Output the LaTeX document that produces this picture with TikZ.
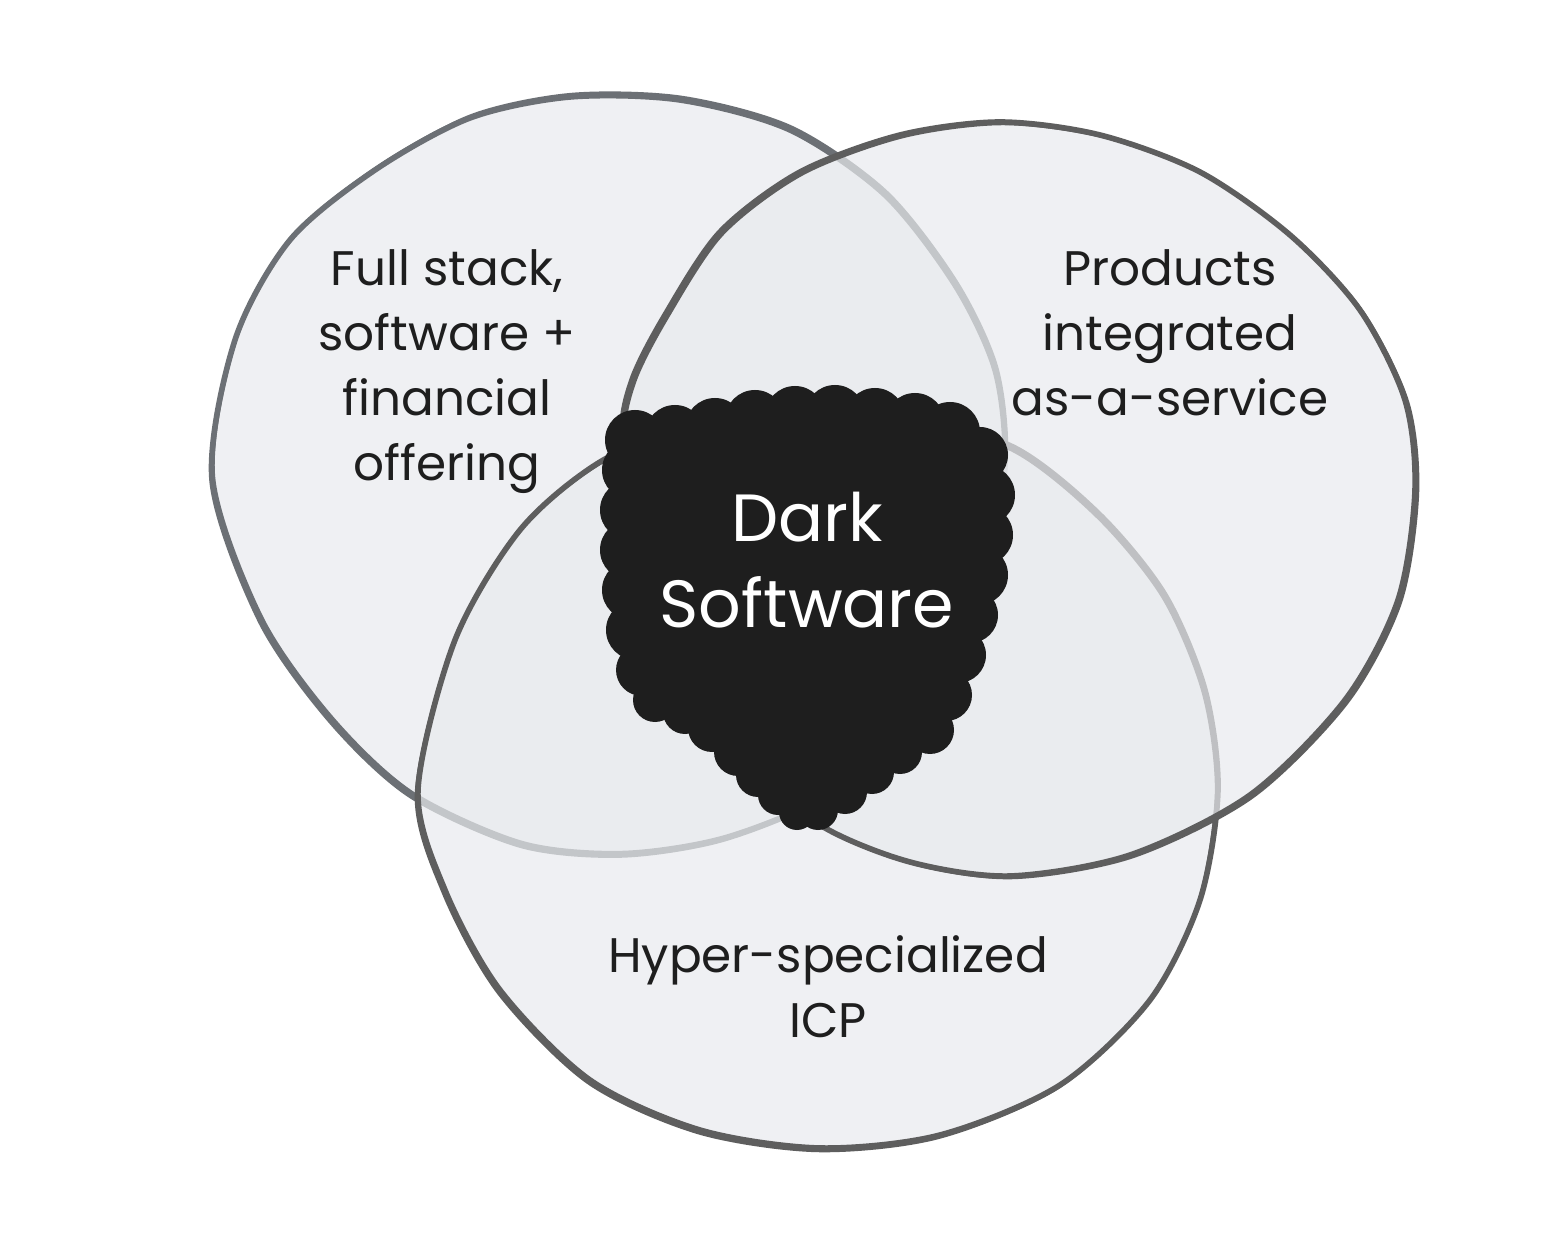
\documentclass[tikz,border=0pt]{standalone}
\usepackage{fontspec}
\setmainfont{Poppins}
\definecolor{ringline}{HTML}{5E5E5E}
\definecolor{leftline}{HTML}{6C7075}
\definecolor{ringfill}{RGB}{233,235,238}
\definecolor{blobc}{HTML}{1E1E1E}
\definecolor{inkc}{HTML}{1E1E1E}

\begin{document}
\begin{tikzpicture}[x=0.1mm,y=-0.1mm,
    ring/.style={draw=ringline,line width=1.6pt,fill=ringfill,fill opacity=0.7},
    ring again/.style={draw=ringline,line width=0.7pt},
    label text/.style={font=\fontsize{13.8}{18.5}\selectfont,text=inkc,align=center,inner sep=0pt},
    dark text/.style={font=\fontsize{19}{24.5}\selectfont,text=white,align=center,inner sep=0pt}]

  \useasboundingbox (0,0) rectangle (1554,1258);
  \fill[white] (0,0) rectangle (1554,1258);

  \def\leftring{plot[smooth cycle] coordinates {(212,480) (235,340) (290,240) (375,170) (470,118)
    (570,97) (680,100) (790,130) (885,195) (955,285) (995,370) (1005,460) (990,560) (955,660)
    (900,740) (820,800) (720,840) (620,855) (520,845) (410,795) (330,720) (260,620)}}
  \def\lowring{plot[smooth cycle] coordinates {(418,790) (455,640) (520,530) (600,462) (700,420)
    (800,405) (905,415) (1015,448) (1100,515) (1165,595) (1205,690) (1218,790) (1200,900)
    (1150,1000) (1060,1085) (940,1135) (820,1148) (700,1130) (590,1080) (500,990) (445,890)}}
  \def\rightring{plot[smooth cycle] coordinates {(622,440) (640,560) (685,670) (745,760) (820,825)
    (910,862) (1010,876) (1130,855) (1250,795) (1345,700) (1398,600) (1415,490) (1405,400)
    (1360,310) (1290,235) (1200,172) (1100,135) (1000,122) (900,135) (800,172) (720,232)
    (665,315) (632,380)}}

  % the three sets
  \path[ring,draw=leftline] \leftring;
  \draw[ring again,draw=leftline,shift={(2,-3)}] \leftring;
  \path[ring] \lowring;
  \draw[ring again,shift={(-2,3)}] \lowring;
  \path[ring] \rightring;
  \draw[ring again,shift={(3,2)}] \rightring;

  % the dark middle
  \fill[blobc] (635,440) -- (795,416) -- (950,432) -- (985,495) -- (970,615) -- (930,730)
    -- (818,810) -- (797,812) -- (738,752) -- (655,700) -- (636,630) -- (632,470) -- cycle;
  \foreach \bx/\by/\br in {635/440/30,675/435/30,715/428/30,755/420/30,795/416/30,835/415/30,
      875/418/30,915/423/30,950/432/30,980/455/28,985/495/30,983/535/30,978/575/30,970/615/28,
      958/655/28,946/695/26,930/730/24,900/752/22,872/772/22,845/792/22,818/810/20,797/812/18,
      778/795/20,758/775/22,738/752/24,712/728/24,685/712/22,655/700/22,642/670/26,636/630/30,
      632/590/30,630/550/30,630/510/30,632/470/30}
    \fill[blobc] (\bx,\by) circle (\br);

  % labels
  \node[label text] (stack) at (447,372) {Full stack,\\software +\\financial\\offering};
  \node[label text] (service) at (1170,333) {Products\\integrated\\as-a-service};
  \node[label text] (icp) at (828,987) {Hyper-specialized\\ICP};
  \node[dark text] (dark) at (807,560) {Dark\\Software};
\end{tikzpicture}
\end{document}
